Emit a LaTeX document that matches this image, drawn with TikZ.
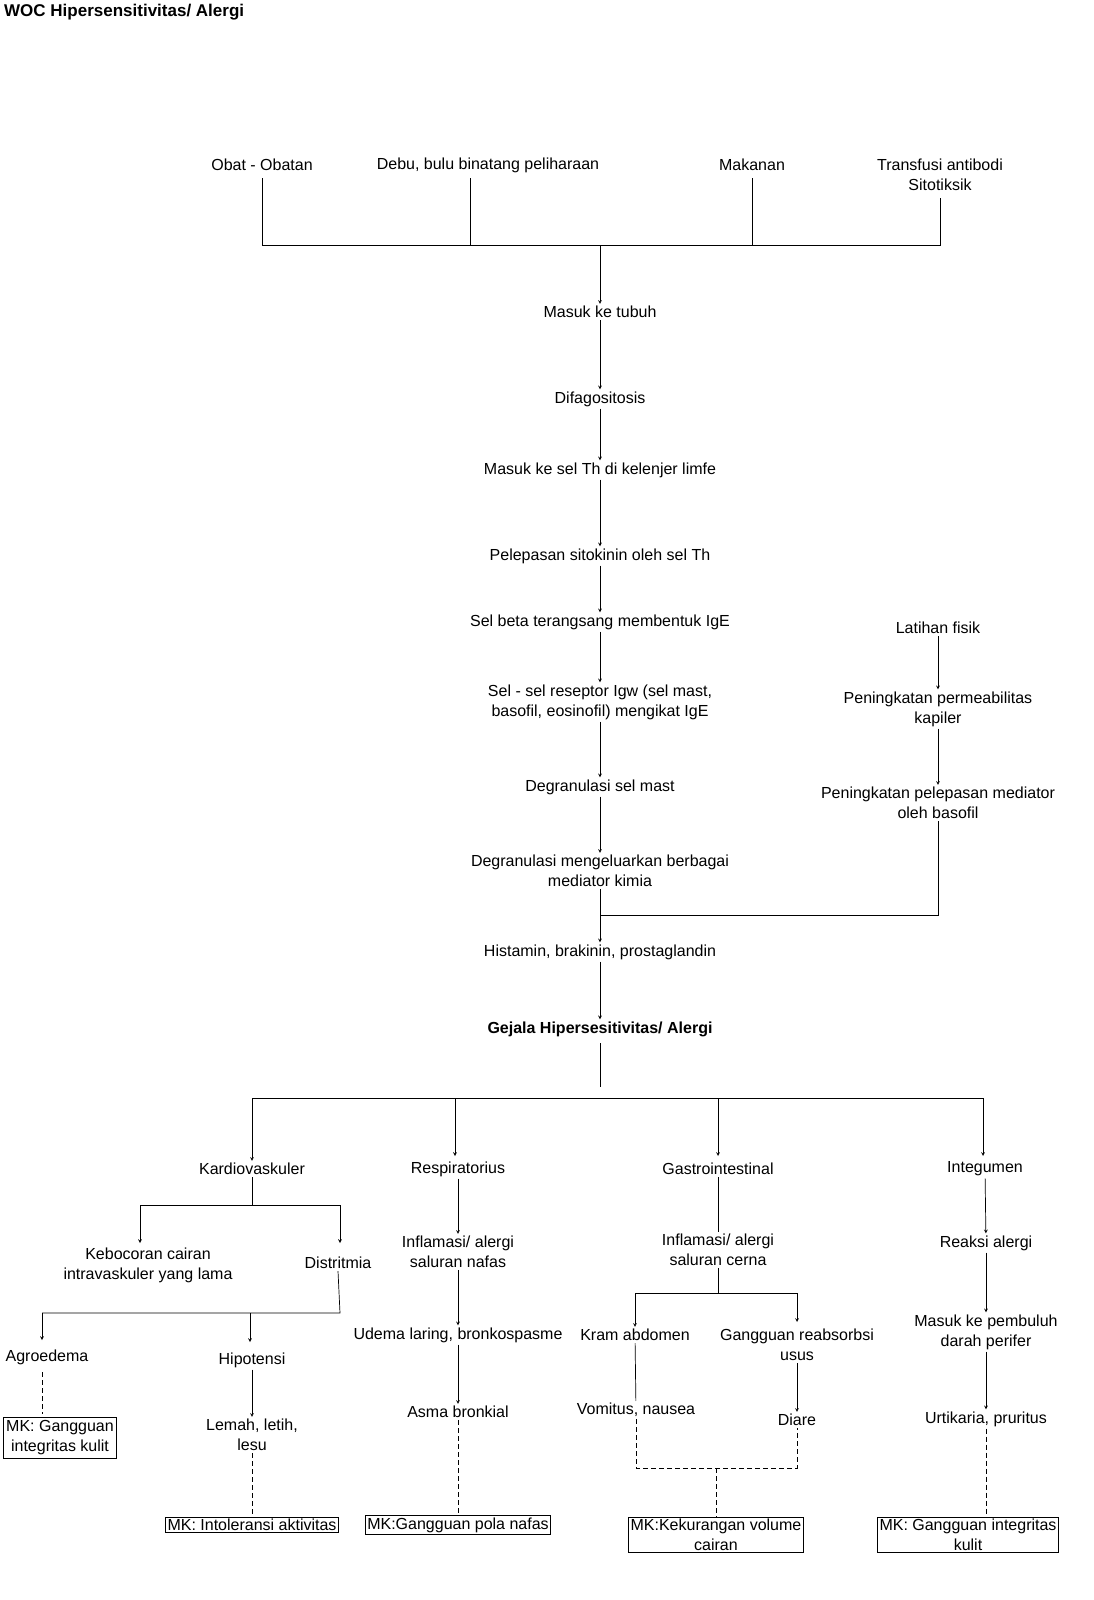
\documentclass[tikz,border=0pt]{standalone}
\usepackage{fontspec}
\setmainfont{Liberation Sans}
\begin{document}
\begin{tikzpicture}[x=1pt,y=-1pt,
 t/.style={align=center,inner sep=2pt,font=\fontsize{16}{20}\selectfont},
 mk/.style={t,draw,line width=0.8pt,inner sep=3pt},
 ar/.style={->,>=stealth,line width=0.7pt},
 ln/.style={line width=0.7pt},
 ds/.style={line width=0.7pt,dash pattern=on 5pt off 3pt}]
\node[t,anchor=west,font=\bfseries\fontsize{17}{20}\selectfont] (title) at (2,12) {WOC Hipersensitivitas/ Alergi};
\node[t] (obat) at (262,165) {Obat - Obatan};
\node[t] (debu) at (488,165) {Debu, bulu binatang peliharaan};
\node[t] (mak) at (752,165) {Makanan};
\node[t] (trans) at (940,175) {Transfusi antibodi\\Sitotiksik};
\coordinate (j1) at (262,245); \coordinate (j2) at (470,245);
\coordinate (j3) at (752,245); \coordinate (j4) at (940,245);
\coordinate (jm) at (600,245);
\draw[ln] (262,178) -- (j1) -- (j4) -- (940,198);
\draw[ln] (470,178) -- (j2); \draw[ln] (752,178) -- (j3);
\node[t] (n1) at (600,312) {Masuk ke tubuh};
\node[t] (n2) at (600,399) {Difagositosis};
\node[t] (n3) at (600,470) {Masuk ke sel Th di kelenjer limfe};
\node[t] (n4) at (600,556) {Pelepasan sitokinin oleh sel Th};
\node[t] (n5) at (600,622) {Sel beta terangsang membentuk IgE};
\node[t] (n6) at (600,702) {Sel - sel reseptor Igw (sel mast,\\basofil, eosinofil) mengikat IgE};
\node[t] (n7) at (600,787) {Degranulasi sel mast};
\node[t] (n8) at (600,871) {Degranulasi mengeluarkan berbagai\\mediator kimia};
\node[t] (n9) at (600,952) {Histamin, brakinin, prostaglandin};
\node[t,font=\bfseries\fontsize{16}{20}\selectfont] (n10) at (600,1029) {Gejala Hipersesitivitas/ Alergi};
\draw[ar] (jm) -- (n1); \draw[ar] (n1) -- (n2); \draw[ar] (n2) -- (n3);
\draw[ar] (n3) -- (n4); \draw[ar] (n4) -- (n5); \draw[ar] (n5) -- (n6);
\draw[ar] (n6) -- (n7); \draw[ar] (n7) -- (n8); \draw[ar] (n8) -- (n9);
\draw[ar] (n9) -- (n10);
\node[t] (r1) at (938,628) {Latihan fisik};
\node[t] (r2) at (938,709) {Peningkatan permeabilitas\\kapiler};
\node[t] (r3) at (938,803) {Peningkatan pelepasan mediator\\oleh basofil};
\draw[ar] (r1) -- (r2); \draw[ar] (r2) -- (r3);
\coordinate (jr) at (938,915); \coordinate (jr2) at (600,915);
\draw[ln] (r3.south) -- (jr) -- (jr2);
\coordinate (g1) at (600,1043); \coordinate (g0) at (600,1087);
\draw[ln] (g1) -- (g0);
\coordinate (h1) at (252,1098); \coordinate (h4) at (983,1098);
\draw[ln] (h1) -- (h4);
\node[t] (kar) at (252,1169) {Kardiovaskuler};
\node[t] (res) at (458,1169) {Respiratorius};
\node[t] (gas) at (718,1169) {Gastrointestinal};
\node[t] (int) at (985,1169) {Integumen};
\draw[ar] (h1) -- (kar); \draw[ar] (455,1098) -- (455,1156);
\draw[ar] (718,1098) -- (718,1156); \draw[ar] (h4) -- (983,1156);
% Kardio
\coordinate (k1) at (140,1205); \coordinate (k2) at (340,1205);
\draw[ln] (kar.south) -- (252,1205); \draw[ln] (k1) -- (k2);
\node[t] (keb) at (148,1265) {Kebocoran cairan\\intravaskuler yang lama};
\node[t] (dis) at (338,1263) {Distritmia};
\draw[ar] (k1) -- (140,1243); \draw[ar] (k2) -- (340,1243);
\coordinate (m1) at (42,1313); \coordinate (m2) at (340,1313);
\draw[ln] (dis.south) -- (m2) -- (m1);
\node[t] (agr) at (47,1357) {Agroedema};
\node[t] (hip) at (252,1360) {Hipotensi};
\draw[ar] (m1) -- (42,1340); \draw[ar] (250,1313) -- (250,1342);
\node[mk] (mk1) at (60,1438) {MK: Gangguan\\integritas kulit};
\draw[ds] (42,1372) -- (42,1414);
\node[t] (lem) at (252,1435) {Lemah, letih,\\lesu};
\draw[ar] (hip) -- (lem);
\node[mk,inner sep=2pt] (mk2) at (252,1525) {MK: Intoleransi aktivitas};
\draw[ds] (lem.south) -- (mk2.north);
% Resp
\node[t] (inr) at (458,1252) {Inflamasi/ alergi\\saluran nafas};
\draw[ar] (res) -- (inr);
\node[t] (ude) at (458,1335) {Udema laring, bronkospasme};
\node[t] (asm) at (458,1412) {Asma bronkial};
\draw[ar] (inr) -- (ude); \draw[ar] (ude) -- (asm);
\node[mk,inner sep=2pt] (mk3) at (458,1525) {MK:Gangguan pola nafas};
\draw[ds] (asm.south) -- (mk3.north);
% Gastro
\node[t] (ing) at (718,1250) {Inflamasi/ alergi\\saluran cerna};
\draw[ln] (gas) -- (ing);
\coordinate (q1) at (635,1293); \coordinate (q2) at (797,1293);
\draw[ln] (ing.south) -- (718,1293); \draw[ln] (q1) -- (q2);
\node[t] (kra) at (635,1335) {Kram abdomen};
\node[t] (gan) at (797,1345) {Gangguan reabsorbsi\\usus};
\draw[ar] (q1) -- (kra); \draw[ar] (q2) -- (797,1322);
\node[t] (vom) at (636,1410) {Vomitus, nausea};
\node[t] (dia) at (797,1420) {Diare};
\draw[ln] (kra) -- (vom); \draw[ar] (gan) -- (dia);
\coordinate (v1) at (636,1468); \coordinate (v2) at (797,1468);
\draw[ds] (vom.south) -- (v1) -- (v2) -- (dia.south);
\node[mk,inner sep=2pt] (mk4) at (716,1535) {MK:Kekurangan volume\\cairan};
\draw[ds] (716,1468) -- (mk4.north);
% Integumen
\node[t] (rea) at (986,1243) {Reaksi alergi};
\node[t] (mas) at (986,1332) {Masuk ke pembuluh\\darah perifer};
\node[t] (urt) at (986,1419) {Urtikaria, pruritus};
\draw[ar] (int) -- (rea); \draw[ar] (rea) -- (mas); \draw[ar] (mas) -- (urt);
\node[mk,inner sep=2pt] (mk5) at (968,1535) {MK: Gangguan integritas\\kulit};
\draw[ds] (urt.south) -- (986,1514);
\pgfresetboundingbox
\useasboundingbox (0,0) rectangle (1093,1600);
\end{tikzpicture}
\end{document}
